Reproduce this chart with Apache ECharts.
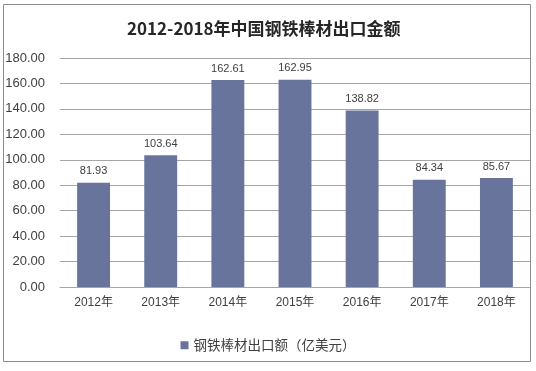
<!DOCTYPE html>
<html><head><meta charset="utf-8">
<script src="https://cdn.jsdelivr.net/npm/echarts@6/dist/echarts.min.js"></script>
<style>html,body{margin:0;padding:0;background:#fff}#c{width:536px;height:371px}</style>
</head><body><div id="c"></div>
<script>
var categories = ['2012年','2013年','2014年','2015年','2016年','2017年','2018年'];
var values = [81.93, 103.64, 162.61, 162.95, 138.82, 84.34, 85.67];
var seriesName = '钢铁棒材出口额（亿美元）';
var titleText = '2012-2018年中国钢铁棒材出口金额';
var yTicks = [0,20,40,60,80,100,120,140,160,180];

var chart = echarts.init(document.getElementById('c'), null, {renderer:'canvas'});
chart.setOption({
  animation:false,
  graphic:[{type:'rect', shape:{x:3.5,y:4.5,width:527,height:357}, style:{fill:'none', stroke:'#8c8c8c', lineWidth:1}, z:-1}],
  title:{text:titleText, left:122, top:15, textStyle:{fontFamily:'Noto Sans CJK SC', fontWeight:'bold', fontSize:17, color:'#262626'}},
  legend:{bottom:14, left:'center', itemWidth:8, itemHeight:8, icon:'rect', itemGap:5,
    textStyle:{fontFamily:'Noto Sans CJK SC', fontSize:13.5, color:'#404040'}},
  grid:{left:60, right:6, top:58, bottom:84, containLabel:false},
  xAxis:{type:'category', data:categories,
    axisLine:{lineStyle:{color:'#a6a6a6'}}, axisTick:{show:false},
    axisLabel:{fontFamily:'Liberation Sans, Noto Sans CJK SC', fontSize:12, color:'#404040', margin:10}},
  yAxis:{type:'value', min:yTicks[0], max:yTicks[yTicks.length-1], interval:20,
    axisLine:{show:false}, axisTick:{show:false},
    splitLine:{lineStyle:{color:'#a6a6a6'}},
    axisLabel:{fontFamily:'Liberation Sans', fontSize:13, color:'#404040', margin:15, formatter:function(v){return v.toFixed(2);}}},
  series:[{name:seriesName, type:'bar', data:values, barWidth:'49%',
    itemStyle:{color:'#68749c'},
    label:{show:true, position:'top', distance:6, fontFamily:'Liberation Sans', fontSize:11, color:'#404040', formatter:function(p){return p.value.toFixed(2);}}}]
});
</script></body></html>
